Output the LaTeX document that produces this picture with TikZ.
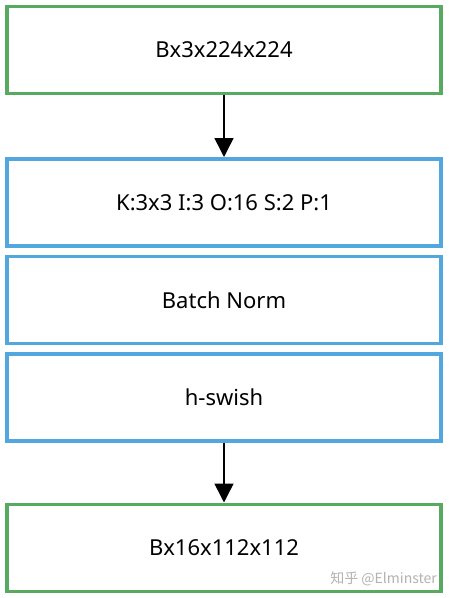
\documentclass[tikz,border=0pt]{standalone}
\usepackage{fontspec}
\setmainfont{Noto Sans}
\newfontfamily\cjkfont{Noto Sans CJK SC}
\usetikzlibrary{arrows.meta,positioning}
\definecolor{boxgreen}{RGB}{88,170,96}
\definecolor{boxblue}{RGB}{82,168,222}

\begin{document}
\begin{tikzpicture}[x=1pt,y=-1pt,>={Triangle[width=19pt,length=19pt]},
                    node distance=62pt,
                    tensor/.style={draw=boxgreen,line width=3.5pt,minimum width=434pt,
                      minimum height=87pt,inner sep=0pt,font=\fontsize{22}{26}\selectfont},
                    layer/.style={tensor,draw=boxblue}]
  \useasboundingbox (0,0) rectangle (448,598);

  \node[tensor] (in)   at (224,49.75)       {Bx3x224x224};
  \node[layer]  (conv) [below=of in]        {K:3x3 I:3 O:16 S:2 P:1};
  \node[layer]  (bn)   [below=7pt of conv]  {Batch Norm};
  \node[layer]  (act)  [below=7pt of bn]    {h-swish};
  \node[tensor] (out)  [below=60pt of act]  {Bx16x112x112};

  \node[text=black!30,font=\cjkfont\fontsize{14}{16}\selectfont,anchor=base east,inner sep=0pt]
       (mark) at (437,583) {知乎 @Elminster};

  \draw[->,line width=1.5pt] (in) -- (conv);
  \draw[->,line width=1.5pt] (act) -- (out);
\end{tikzpicture}
\end{document}
